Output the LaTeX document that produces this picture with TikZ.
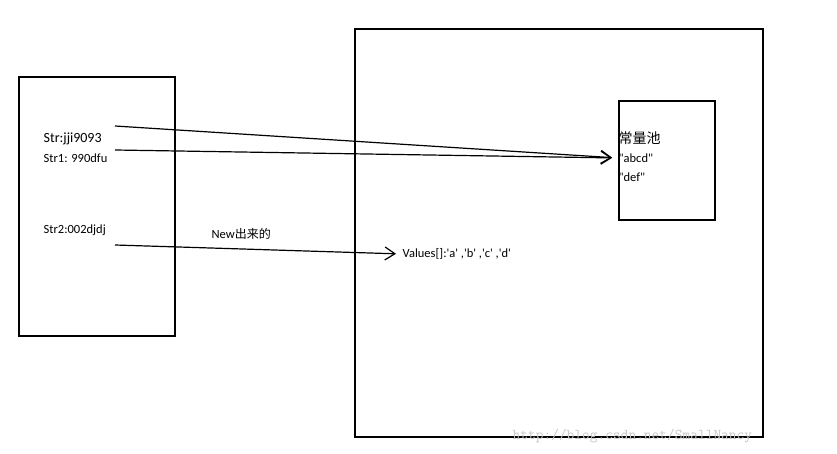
\documentclass[tikz,border=0pt]{standalone}
\usepackage{fontspec}
\setmainfont{Carlito}[Ligatures=NoCommon]
\newfontfamily\cjk{Noto Sans CJK SC}
\usetikzlibrary{arrows.meta}
\newcommand{\sq}{\textquotesingle}
\newcommand{\dq}{\textquotedbl}
\begin{document}
\begin{tikzpicture}[x=1pt, y=-1pt, line width=1.3pt,
    lbl/.style={anchor=west, inner sep=0pt, font=\fontsize{12.5}{14}\selectfont},
    ref/.style={-{Straight Barb[length=10pt,width=13pt]}, line width=1.2pt, shorten >=6pt}]
        \useasboundingbox (0,0) rectangle (837,454);

        % stack frame and heap
        \draw (19,77) rectangle (175,336);
        \draw (355,29) rectangle (763,437);
        \draw (619,101) rectangle (715,220);

        \node[lbl, font=\fontsize{14}{16}\selectfont] (str) at (43,139) {Str:jji9093};
        \node[lbl] (strone) at (43,158) {Str1: 990dfu};
        \node[lbl] (strtwo) at (43,230) {Str2:002djdj};
        \node[lbl] (newlbl) at (211,234) {New{\cjk\fontsize{12}{14}\selectfont 出来的}};
        \node[lbl] (values) at (402,254) {Values[]:\sq a\sq\ ,\sq b\sq\ ,\sq c\sq\ ,\sq d\sq};

        \node[lbl, font=\cjk\fontsize{14}{16}\selectfont] (pool) at (618,138) {常量池};
        \node[lbl] (abcd) at (618,158) {\dq abcd\dq};
        \node[lbl] (def) at (618,177) {\dq def\dq};

        \coordinate (s0) at (115,126);
        \coordinate (s1) at (115,150);
        \coordinate (s2) at (115,245);

        \draw[ref] (s0) -- (abcd.west);
        \draw[ref] (s1) -- (abcd.west);
        \draw[ref] (s2) -- (values.west);

        \node[lbl, text=black!22, font=\ttfamily\fontsize{15}{17}\selectfont] (mark) at (512,436) {http://blog.csdn.net/SmallNancy};
      \end{tikzpicture}
\end{document}
